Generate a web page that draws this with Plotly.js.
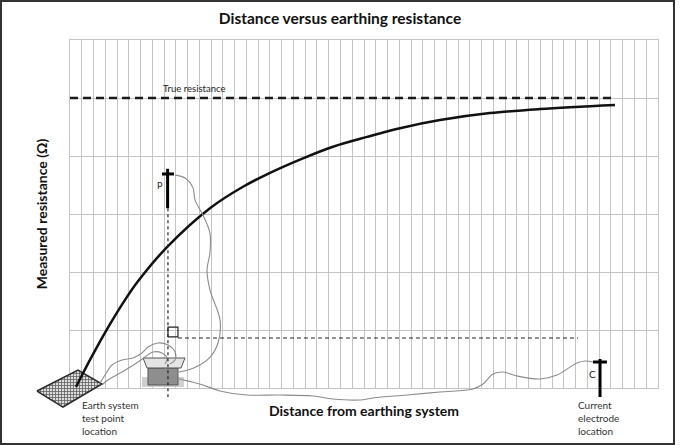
<!DOCTYPE html>
<html>
<head>
<meta charset="utf-8">
<script src="https://cdn.plot.ly/plotly-3.0.1.min.js"></script>
<style>
  html, body { margin: 0; padding: 0; background: #fff; }
  #chart { width: 680px; height: 445px; }
</style>
</head>
<body>
<div id="chart"></div>
<script>
// ---------- data (grid units: x = distance divisions, y = resistance divisions) ----------
const chartTitle = 'Distance versus earthing resistance';
const xTitle = 'Distance from earthing system';
const yTitle = 'Measured resistance (Ω)';
const xDivisions = 50;
const yDivisions = 6;

const curveX = [0.51, 1.87, 3.40, 4.68, 5.78, 8.25, 11.90, 14.71, 17.01, 19.81, 22.36, 25.26, 28.06, 31.46, 35.71, 39.97, 46.34];
const curveY = [0.02, 0.55, 1.10, 1.52, 1.84, 2.43, 3.10, 3.47, 3.71, 3.96, 4.16, 4.33, 4.48, 4.62, 4.74, 4.81, 4.88];

const trueResistance = 5;
const trueLineX = [0, 46.1];
const trueLabel = 'True resistance';
const trueLabelX = 10.54;

const earthGridX = [-2.81, 0.68, 2.72, -0.60, -2.81];
const earthGridY = [-0.052, 0.31, 0.069, -0.328, -0.052];

const pElectrodeX = 8.3;
const pElectrodeY = [3.78, 3.10];
const pBarX = [7.82, 8.84];
const pBarY = 3.69;
const pLabel = 'P';
const pLabelPos = [7.65, 3.50];

const probeDropX = 8.33;
const probeDropY = [3.10, -0.155];
const markerSquareX = [8.33, 9.18, 9.18, 8.33, 8.33];
const markerSquareY = [0.88, 0.88, 1.05, 1.05, 0.88];
const readingLineX = [9.18, 43.2];
const readingLineY = 0.862;

const cElectrodeX = 45.07;
const cElectrodeY = [0.50, -0.155];
const cBarX = [44.47, 45.66];
const cBarY = 0.448;
const cLabel = 'C';
const cLabelPos = [44.39, 0.24];

const lidX = [6.21, 9.78, 9.44, 6.55, 6.21];
const lidY = [0.517, 0.517, 0.345, 0.345, 0.517];
const bodyX = [6.63, 9.18, 9.18, 6.63, 6.63];
const bodyY = [0.345, 0.345, 0.052, 0.052, 0.345];
const baseX = [6.12, 9.69, 9.69, 6.12, 6.12];
const baseY = [0.19, 0.19, 0.017, 0.017, 0.19];

const earthWire1X = [2.55, 2.98, 3.57, 4.42, 5.36, 6.12, 6.63, 7.48, 8.33, 8.93, 8.93, 8.50];
const earthWire1Y = [0.086, 0.224, 0.397, 0.483, 0.517, 0.603, 0.707, 0.776, 0.741, 0.621, 0.483, 0.414];
const earthWire2X = [2.72, 3.23, 4.42, 5.53, 6.38, 7.06, 7.82, 8.25, 8.08];
const earthWire2Y = [0.052, 0.138, 0.276, 0.414, 0.534, 0.621, 0.603, 0.517, 0.414];

const pWireX = [8.93, 9.78, 10.46, 10.63, 11.31, 11.90, 11.90, 11.65, 11.90, 12.76, 12.59, 11.90, 10.46, 9.35, 8.67];
const pWireY = [3.67, 3.62, 3.45, 3.24, 2.98, 2.67, 2.33, 2.03, 1.69, 1.17, 0.78, 0.53, 0.34, 0.28, 0.28];

const cWireX = [8.08, 8.33, 9.01, 10.37, 11.31, 12.76, 15.05, 17.86, 20.66, 22.36, 24.66, 25.77, 28.66, 31.46, 34.27, 35.12, 35.97, 36.82, 38.01, 39.97, 41.41, 43.11, 43.79, 44.47];
const cWireY = [0.362, 0.224, 0.172, 0.103, 0.052, -0.052, -0.121, -0.121, -0.138, -0.190, -0.207, -0.172, -0.121, -0.069, -0.017, 0.069, 0.241, 0.276, 0.207, 0.155, 0.224, 0.431, 0.466, 0.448];

const earthLabel = 'Earth system<br>test point<br>location';
const earthLabelPos = [0.85, -0.15];
const currentLabel = 'Current<br>electrode<br>location';
const currentLabelPos = [43.03, -0.15];

// ---------- layout geometry ----------
const W = 680, H = 445;
const L = 70, R = 658, T = 40, B = 388;
const pxPerX = (R - L) / xDivisions;
const pxPerY = (B - T) / yDivisions;

const FONT = 'Lato, "Open Sans", sans-serif';
const WIRE = '#8c8c8c';

function line(x, y, color, width, dash, shape, onMain) {
  return { type: 'scatter', mode: 'lines', x: x, y: y,
    xaxis: onMain ? 'x' : 'x2', yaxis: onMain ? 'y' : 'y2',
    line: { color: color, width: width, dash: dash || 'solid', shape: shape || 'linear', smoothing: 1 },
    hoverinfo: 'skip', showlegend: false };
}
function poly(x, y, fill, lineColor, lw) {
  return { type: 'scatter', mode: 'lines', x: x, y: y, xaxis: 'x2', yaxis: 'y2', fill: 'toself',
    fillcolor: fill, line: { color: lineColor, width: lw }, hoverinfo: 'skip', showlegend: false };
}

const traces = [];
// true resistance dashed line (on the gridded chart axes)
traces.push(line(trueLineX, [trueResistance, trueResistance], '#1a1a1a', 2.5, '8px,5px', 'linear', true));
// earth grid mesh
traces.push({ type: 'scatter', mode: 'lines', x: earthGridX, y: earthGridY, xaxis: 'x2', yaxis: 'y2',
  fill: 'toself', fillcolor: '#ffffff',
  fillpattern: { shape: '+', size: 3, solidity: 0.45, fgcolor: '#5e5e5e', bgcolor: '#dedede' },
  line: { color: '#2b2b2b', width: 1.5 }, hoverinfo: 'skip', showlegend: false });
// measured resistance curve
traces.push(line(curveX, curveY, '#111111', 2.5, 'solid', 'spline'));
// test set
traces.push(poly(baseX, baseY, '#cfcfcf', 'rgba(0,0,0,0)', 0));
traces.push(poly(bodyX, bodyY, '#8e8e8e', '#555555', 1));
traces.push(poly(lidX, lidY, '#e4e4e4', '#555555', 1));
// wires
traces.push(line(earthWire1X, earthWire1Y, WIRE, 1.1, 'solid', 'spline'));
traces.push(line(earthWire2X, earthWire2Y, WIRE, 1.1, 'solid', 'spline'));
traces.push(line(pWireX, pWireY, WIRE, 1.1, 'solid', 'spline'));
traces.push(line(cWireX, cWireY, WIRE, 1.1, 'solid', 'spline'));
// probe drop line, marker square, reading line
traces.push(line([probeDropX, probeDropX], probeDropY, '#222222', 1.2, '3px,3px'));
traces.push(line(markerSquareX, markerSquareY, '#222222', 1.2));
traces.push(line(readingLineX, [readingLineY, readingLineY], '#222222', 1.2, '4px,3px'));
// electrodes
traces.push(line([pElectrodeX, pElectrodeX], pElectrodeY, '#000000', 3));
traces.push(line(pBarX, [pBarY, pBarY], '#000000', 3));
traces.push(line([cElectrodeX, cElectrodeX], cElectrodeY, '#000000', 3));
traces.push(line(cBarX, [cBarY, cBarY], '#000000', 3));

const annFont = { family: FONT, size: 10, color: '#333333' };
const layout = {
  width: W, height: H,
  margin: { l: 0, r: 0, t: 0, b: 0 },
  paper_bgcolor: '#ffffff',
  plot_bgcolor: 'rgba(0,0,0,0)',
  showlegend: false,
  title: { text: '<b>' + chartTitle + '</b>', font: { family: FONT, size: 15.5, color: '#111111' },
    x: 340 / W, xanchor: 'center', y: 1 - 19 / H, yanchor: 'middle' },
  xaxis: {
    domain: [L / W, R / W], range: [0, xDivisions], dtick: 1, tick0: 0,
    showgrid: true, gridcolor: '#c4c4c4', gridwidth: 1, zeroline: false,
    showline: true, linecolor: '#c4c4c4', linewidth: 1, mirror: true,
    showticklabels: false, ticks: '', fixedrange: true,
    title: { text: '<b>' + xTitle + '</b>', font: { family: FONT, size: 14, color: '#111111' }, standoff: 18 }
  },
  yaxis: {
    domain: [(H - B) / H, (H - T) / H], range: [0, yDivisions], dtick: 1, tick0: 0,
    showgrid: true, gridcolor: '#c4c4c4', gridwidth: 1, zeroline: false,
    showline: true, linecolor: '#c4c4c4', linewidth: 1, mirror: true,
    showticklabels: false, ticks: '', fixedrange: true,
    title: { text: '<b>' + yTitle + '</b>', font: { family: FONT, size: 14, color: '#111111' }, standoff: 18 }
  },
  xaxis2: { domain: [0, 1], anchor: 'y2', range: [-L / pxPerX, xDivisions + (W - R) / pxPerX],
    visible: false, fixedrange: true },
  yaxis2: { domain: [0, 1], anchor: 'x2', range: [-(H - B) / pxPerY, yDivisions + T / pxPerY],
    visible: false, fixedrange: true },
  annotations: [
    { xref: 'x2', yref: 'y2', x: trueLabelX, y: trueResistance + 0.17, text: trueLabel, showarrow: false,
      font: { family: FONT, size: 9.5, color: '#222222' }, xanchor: 'center', yanchor: 'middle' },
    { xref: 'x2', yref: 'y2', x: pLabelPos[0], y: pLabelPos[1], text: pLabel, showarrow: false,
      font: { family: FONT, size: 9, color: '#222222' }, xanchor: 'center', yanchor: 'middle' },
    { xref: 'x2', yref: 'y2', x: cLabelPos[0], y: cLabelPos[1], text: cLabel, showarrow: false,
      font: { family: FONT, size: 10, color: '#222222' }, xanchor: 'center', yanchor: 'middle' },
    { xref: 'x2', yref: 'y2', x: earthLabelPos[0], y: earthLabelPos[1], text: earthLabel, showarrow: false,
      font: annFont, xanchor: 'left', yanchor: 'top', align: 'left' },
    { xref: 'x2', yref: 'y2', x: currentLabelPos[0], y: currentLabelPos[1], text: currentLabel, showarrow: false,
      font: annFont, xanchor: 'left', yanchor: 'top', align: 'left' }
  ],
  shapes: [
    { type: 'rect', xref: 'paper', yref: 'paper', x0: 1 / W, x1: 674 / W, y0: 1 / H, y1: 444 / H,
      line: { color: '#333333', width: 2 }, fillcolor: 'rgba(0,0,0,0)', layer: 'above' }
  ]
};

Plotly.newPlot('chart', traces, layout, { staticPlot: true, displayModeBar: false });
</script>
</body>
</html>
